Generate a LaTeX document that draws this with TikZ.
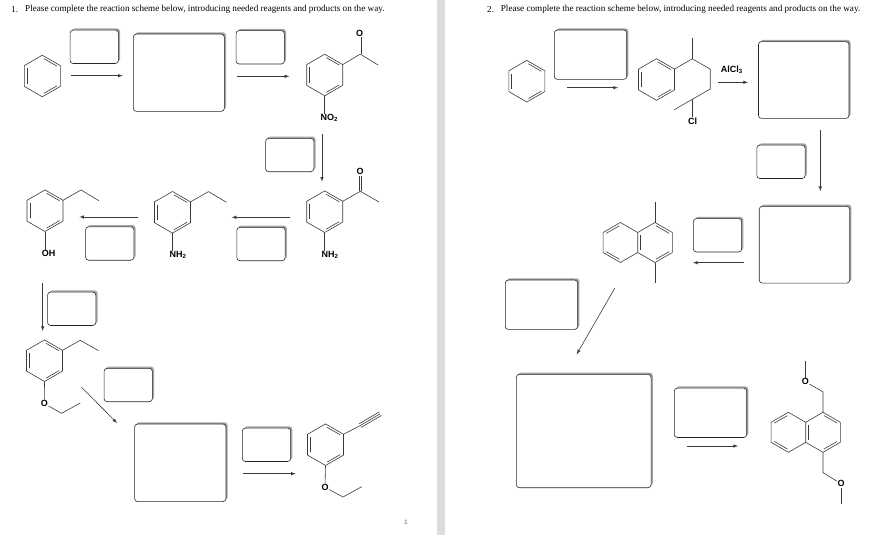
\documentclass[tikz,border=0pt]{standalone}
\usepackage{fontspec}
\setmainfont{Liberation Serif}
\setsansfont{Liberation Sans}
\usetikzlibrary{shapes,positioning,arrows,calc,shadows}
\definecolor{bondgray}{HTML}{3A3A3A}
\definecolor{shadegray}{HTML}{A4A4A4}
\definecolor{pagegray}{HTML}{DCDCDC}

\begin{document}
\begin{tikzpicture}[x=1pt,y=-1pt,
	>=latex,
	box/.style={draw=black!85, fill=white, rounded corners=3pt, line width=.6pt, inner sep=0pt,
		drop shadow={shadow xshift=1.7pt, shadow yshift=1.7pt, fill=shadegray, opacity=1}},
	small/.style={box, minimum width=48.3pt, minimum height=33.4pt},
	medium/.style={box, minimum width=72.4pt, minimum height=49.4pt},
	large/.style={box, minimum width=90.5pt, minimum height=76.8pt},
	bond/.style={draw=bondgray, line width=.6pt},
	step arrow/.style={->, draw=bondgray, line width=.6pt},
	atom/.style={font=\sffamily\bfseries\fontsize{9}{10}\selectfont, inner sep=.6pt},
	title/.style={font=\fontsize{9.15}{11}\selectfont, anchor=west, inner sep=0pt},
	ring/.pic={
		\coordinate (-a) at (0,-20.8);
		\coordinate (-b) at (18,-10.4);
		\coordinate (-c) at (18,10.4);
		\coordinate (-d) at (0,20.8);
		\coordinate (-e) at (-18,10.4);
		\coordinate (-f) at (-18,-10.4);
		\draw[bond] (-a) -- (-b) -- (-c) -- (-d) -- (-e) -- (-f) -- cycle;
		\draw[bond] (1.6,-17.4) -- (14.6,-9.9);
		\draw[bond] (14.6,9.9) -- (1.6,17.4);
		\draw[bond] (-15.2,7.6) -- (-15.2,-7.6);
	},
	naph/.pic={
		\coordinate (-t) at (17.3,-20);
		\coordinate (-u) at (-17.3,20);
		\coordinate (-b) at (17.3,20);
		\draw[bond] (0,-10) -- (-t) -- (34.6,-10) -- (34.6,10) -- (-b) -- (0,10) -- cycle;
		\draw[bond] (0,-10) -- (-17.3,-20) -- (-34.6,-10) -- (-34.6,10) -- (-u) -- (0,10);
		\draw[bond] (2.7,7.5) -- (2.7,-7.5);
		\draw[bond] (18.3,-16.7) -- (31.4,-9.2);
		\draw[bond] (31.4,9.2) -- (18.3,16.7);
		\draw[bond] (-18.3,-16.7) -- (-31.4,-9.2);
		\draw[bond] (-31.4,9.2) -- (-18.3,16.7);
	}]
	\useasboundingbox (0,0) rectangle (873,535);
	\fill[pagegray] (436.5,0) rectangle (444.5,535);

	% first scheme
	\node[title] (num1) at (11,9.4) {1.};
	\node[title] (ask1) at (25,9.4) {Please complete the reaction scheme below, introducing needed reagents and products on the way.};

	\node[small] (b1) at (94.2,46.8) {};
	\node[box, minimum width=91pt, minimum height=77.3pt] (b2) at (178.8,72.7) {};
	\node[small] (b3) at (260.2,47.3) {};
	\node[small] (b4) at (289.7,155) {};
	\node[small] (b5) at (109.7,243.5) {};
	\node[small] (b6) at (261,244) {};
	\node[small] (b7) at (71.7,308.8) {};
	\node[small] (b8) at (128.2,385) {};
	\node[box, minimum width=91.3pt, minimum height=77.7pt] (b9) at (180.3,462.8) {};
	\node[small] (b10) at (266.5,444.8) {};

	\pic (r1) at (42.3,76) {ring};
	\pic (r2) at (324.7,75) {ring};
	\pic (r3) at (324.7,211.7) {ring};
	\pic (r4) at (172.5,212.3) {ring};
	\pic (r5) at (45,210.7) {ring};
	\pic (r6) at (44.5,360.7) {ring};
	\pic (r7) at (325.5,444.7) {ring};

	\node[atom] (o2) at (359.7,33.3) {O};
	\node[atom] (no2) at (329.3,118) {NO\textsubscript{2}};
	\node[atom] (o3) at (360,171.7) {O};
	\node[atom] (nh3) at (330,255) {NH\textsubscript{2}};
	\node[atom] (nh4) at (178,255) {NH\textsubscript{2}};
	\node[atom] (oh5) at (48.5,253.5) {OH};
	\node[atom] (o6) at (44.3,403.7) {O};
	\node[atom] (o7) at (325,487.3) {O};

	\draw[bond] (r2-b) -- ++(17.5,-10.5) coordinate (k2) -- ++(18,11);
	\draw[bond, double=white, double distance=1.5pt] (k2) -- (k2 |- o2.south);
	\draw[bond] (r2-d) -- (r2-d |- no2.north);
	\draw[bond] (r3-b) -- ++(17.7,-10) coordinate (k3) -- ++(18.6,10.7);
	\draw[bond, double=white, double distance=1.5pt] (k3) -- (k3 |- o3.south);
	\draw[bond] (r3-d) -- (r3-d |- nh3.north);
	\draw[bond] (r4-b) -- ++(18,-10.3) -- ++(18,10.7);
	\draw[bond] (r4-d) -- (r4-d |- nh4.north);
	\draw[bond] (r5-b) -- ++(18,-10.3) -- ++(18,10.7);
	\draw[bond] (r5-d) -- (r5-d |- oh5.north);
	\draw[bond] (r6-b) -- ++(17.7,-10) -- ++(18.3,10.3);
	\draw[bond] (r6-d) -- (o6);
	\draw[bond] (o6) -- (61.7,413.3) -- (80.3,403);
	\draw[bond] (r7-d) -- (o7);
	\draw[bond] (o7) -- (343,497) -- (361.7,486.7);
	\draw[bond] (r7-b) -- (360,425.7) coordinate (k7) -- (380.3,413.7) coordinate (e7);
	\draw[bond] ($(k7)+(1,1.8)$) -- ($(e7)+(1,1.8)$);
	\draw[bond] ($(k7)+(-1,-1.8)$) -- ($(e7)+(-1,-1.8)$);

	\coordinate (a1) at (70.7,75.7);
	\coordinate (a1e) at (122.7,75.7);
	\coordinate (a2) at (237,76.3);
	\coordinate (a2e) at (289.3,76.3);
	\coordinate (a3) at (322,134.3);
	\coordinate (a3e) at (322,181.7);
	\coordinate (a4) at (289.7,217.3);
	\coordinate (a4e) at (231.7,217.3);
	\coordinate (a5) at (137.7,217);
	\coordinate (a5e) at (79.3,217);
	\coordinate (a6) at (42.7,283.3);
	\coordinate (a6e) at (42.7,331);
	\coordinate (a7) at (81.3,387);
	\coordinate (a7e) at (117,423);
	\coordinate (a8) at (243,473.7);
	\coordinate (a8e) at (295.7,473.7);
	\draw[step arrow] (a1) -- (a1e);
	\draw[step arrow] (a2) -- (a2e);
	\draw[step arrow] (a3) -- (a3e);
	\draw[step arrow] (a4) -- (a4e);
	\draw[step arrow] (a5) -- (a5e);
	\draw[step arrow] (a6) -- (a6e);
	\draw[step arrow] (a7) -- (a7e);
	\draw[step arrow] (a8) -- (a8e);

	\node[font=\sffamily\fontsize{6.5}{8}\selectfont, text=black!60, inner sep=0pt] (page) at (406,522.7) {1};

	% second scheme
	\node[title] (num2) at (487,9.4) {2.};
	\node[title] (ask2) at (500.7,9.4) {Please complete the reaction scheme below, introducing needed reagents and products on the way.};

	\node[medium] (b11) at (590.5,54.7) {};
	\node[large] (b12) at (803.7,80) {};
	\node[small] (b13) at (781,161.8) {};
	\node[large] (b14) at (804.5,244.7) {};
	\node[small] (b15) at (717.5,235.3) {};
	\node[medium] (b16) at (541.5,304.7) {};
	\node[box, minimum width=134.7pt, minimum height=113.4pt] (b17) at (583.7,431) {};
	\node[medium] (b18) at (710.5,412.8) {};

	\pic (r8) at (526.8,81.2) {ring};
	\pic (r9) at (656.5,79.5) {ring};
	\pic (n1) at (637.7,242.5) {naph};
	\pic (n2) at (805.7,432.3) {naph};

	\node[atom] (cl9) at (692.7,121) {Cl};
	\node[atom] (alcl) at (731.7,70) {AlCl\textsubscript{3}};
	\node[atom] (o21) at (805.3,381.7) {O};
	\node[atom] (o22) at (841,483.7) {O};

	\draw[bond] (r9-b) -- ++(17.7,-10.3) coordinate (c1) -- ++(18,10.3) -- ++(0,20) -- ++(-18,10.3) coordinate (c2) -- ++(-18,10.3);
	\draw[bond] (c1) -- ++(0,-20.7);
	\draw[bond] (c2) -- (c2 |- cl9.north);
	\draw[bond] (n1-t) -- ++(0,-20.7);
	\draw[bond] (n1-b) -- ++(0,20);
	\draw[bond] (n2-t) -- ++(0,-20.4) coordinate (m1) -- (o21);
	\draw[bond] (o21) -- ++(0,-21);
	\draw[bond] (n2-b) -- ++(0,20.3) coordinate (m2) -- (o22);
	\draw[bond] (o22) -- ++(0,20);

	\coordinate (a9) at (567,87.7);
	\coordinate (a9e) at (618,87.7);
	\coordinate (a10) at (718,82.3);
	\coordinate (a10e) at (748,82.3);
	\coordinate (a11) at (820.3,130);
	\coordinate (a11e) at (820.3,191);
	\coordinate (a12) at (743.7,262.7);
	\coordinate (a12e) at (693,262.7);
	\coordinate (a13) at (614.7,288.3);
	\coordinate (a13e) at (576.7,354.3);
	\coordinate (a14) at (687,446);
	\coordinate (a14e) at (738,446);
	\draw[step arrow] (a9) -- (a9e);
	\draw[step arrow] (a10) -- (a10e);
	\draw[step arrow] (a11) -- (a11e);
	\draw[step arrow] (a12) -- (a12e);
	\draw[step arrow] (a13) -- (a13e);
	\draw[step arrow] (a14) -- (a14e);
\end{tikzpicture}
\end{document}
